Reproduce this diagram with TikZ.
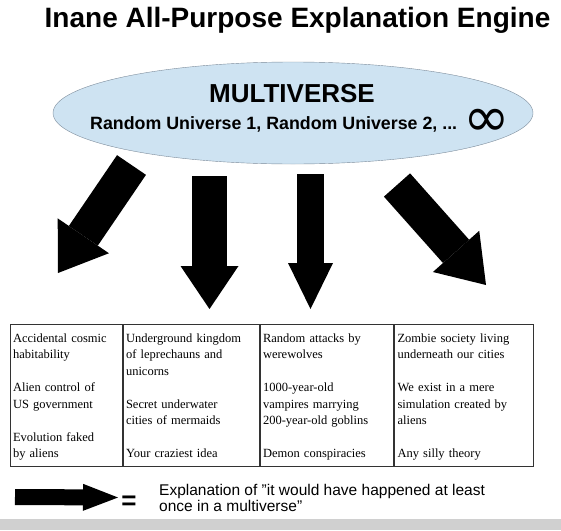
\documentclass[tikz,border=0pt]{standalone}
\usepackage{fontspec}
\setmainfont{Liberation Serif}
\setsansfont{Liberation Sans}
\newfontfamily\symbfont{DejaVu Sans}
\usetikzlibrary{positioning,arrows.meta,shapes.geometric}
\definecolor{CloudBlue}{RGB}{206,227,242}
\definecolor{CloudEdge}{RGB}{125,140,155}
\definecolor{FootGray}{RGB}{208,208,208}

\begin{document}
\begin{tikzpicture}[x=1pt, y=-1pt,
        % Style cho ellipse multiverse
        cloud/.style={
            ellipse,
            draw=CloudEdge,
            fill=CloudBlue,
            minimum width=480pt,
            minimum height=102pt,
            inner sep=0pt
        },
        % Style cho mũi tên lớn
        bigarrow/.style n args={3}{
            draw=black,
            line width=#1,
            -{Triangle[width=#2, length=#3, line width=0pt]}
        },
        % Style cho ô của bảng
        cell/.style={
            draw=black!80,
            line width=1pt,
            anchor=north west,
            minimum height=139pt,
            inner xsep=3pt,
            text height=14.5pt,
            align=left,
            execute at end node={\strut},
            font=\fontsize{12.5}{16.5}\selectfont
        }
    ]
        \useasboundingbox (0,0) rectangle (561,530);

        % --- 1. TIÊU ĐỀ ---
        \node[font=\sffamily\bfseries\fontsize{28}{34}\selectfont, anchor=base] (title) at (297.5,27) {Inane All-Purpose Explanation Engine};

        % --- 2. MULTIVERSE ---
        \node[cloud] (multi) at (293,113) {};
        \node[font=\sffamily\bfseries\fontsize{26}{30}\selectfont, anchor=base] (mname) at (292,102) {MULTIVERSE};
        \node[font=\sffamily\bfseries\fontsize{17.8}{20}\selectfont, anchor=base west, inner sep=0pt] (ulist) at (90,129) {Random Universe 1, Random Universe 2, ...};
        \node[font=\symbfont\fontsize{56}{58}\selectfont, inner sep=0pt] (infty) at (487,123) {∞};

        % --- 3. MŨI TÊN ---
        \coordinate (s1) at (131.5,165);
        \coordinate (t1) at (58,273);
        \coordinate (s2) at (209.5,176);
        \coordinate (t2) at (209.5,309);
        \coordinate (s3) at (310.5,174);
        \coordinate (t3) at (310.5,309);
        \coordinate (s4) at (397,185);
        \coordinate (t4) at (486,285);

        \draw[bigarrow={35pt}{62pt}{45pt}] (s1) -- (t1);
        \draw[bigarrow={35pt}{58pt}{43pt}] (s2) -- (t2);
        \draw[bigarrow={27pt}{45pt}{46pt}] (s3) -- (t3);
        \draw[bigarrow={35pt}{62pt}{45pt}] (s4) -- (t4);

        % --- 4. BẢNG ---
        \node[cell, text width=106pt] (c1) at (9.5,324) {Accidental cosmic\\habitability\\[16.5pt]Alien control of\\US government\\[16.5pt]Evolution faked\\by aliens};
        \node[cell, text width=130pt] (c2) at (c1.north east) {Underground kingdom\\of leprechauns and\\unicorns\\[16.5pt]Secret underwater\\cities of mermaids\\[16.5pt]Your craziest idea};
        \node[cell, text width=127.5pt] (c3) at (c2.north east) {Random attacks by\\werewolves\\[16.5pt]1000-year-old\\vampires marrying\\200-year-old goblins\\[16.5pt]Demon conspiracies};
        \node[cell, text width=133pt] (c4) at (c3.north east) {Zombie society living\\underneath our cities\\[16.5pt]We exist in a mere\\simulation created by\\aliens\\[16.5pt]Any silly theory};

        % --- 5. CHÚ THÍCH ---
        \node[font=\sffamily\bfseries\fontsize{26}{30}\selectfont, inner sep=0pt] (eq) at (129,503) {=};
        \coordinate (ltail) at (15,497);
        \coordinate (ltip) at (118,497.5);
        \draw[bigarrow={16pt}{27pt}{35pt}] (ltail) -- (ltip);
        \node[font=\sffamily\fontsize{15.5}{16}\selectfont, align=left, anchor=base west, inner sep=0pt] (legend) at (159,511) {Explanation of "it would have happened at least\\once in a multiverse"};

        % thanh xám phía dưới
        \fill[FootGray] (0,519) rectangle (561,530);

    \end{tikzpicture}
\end{document}
